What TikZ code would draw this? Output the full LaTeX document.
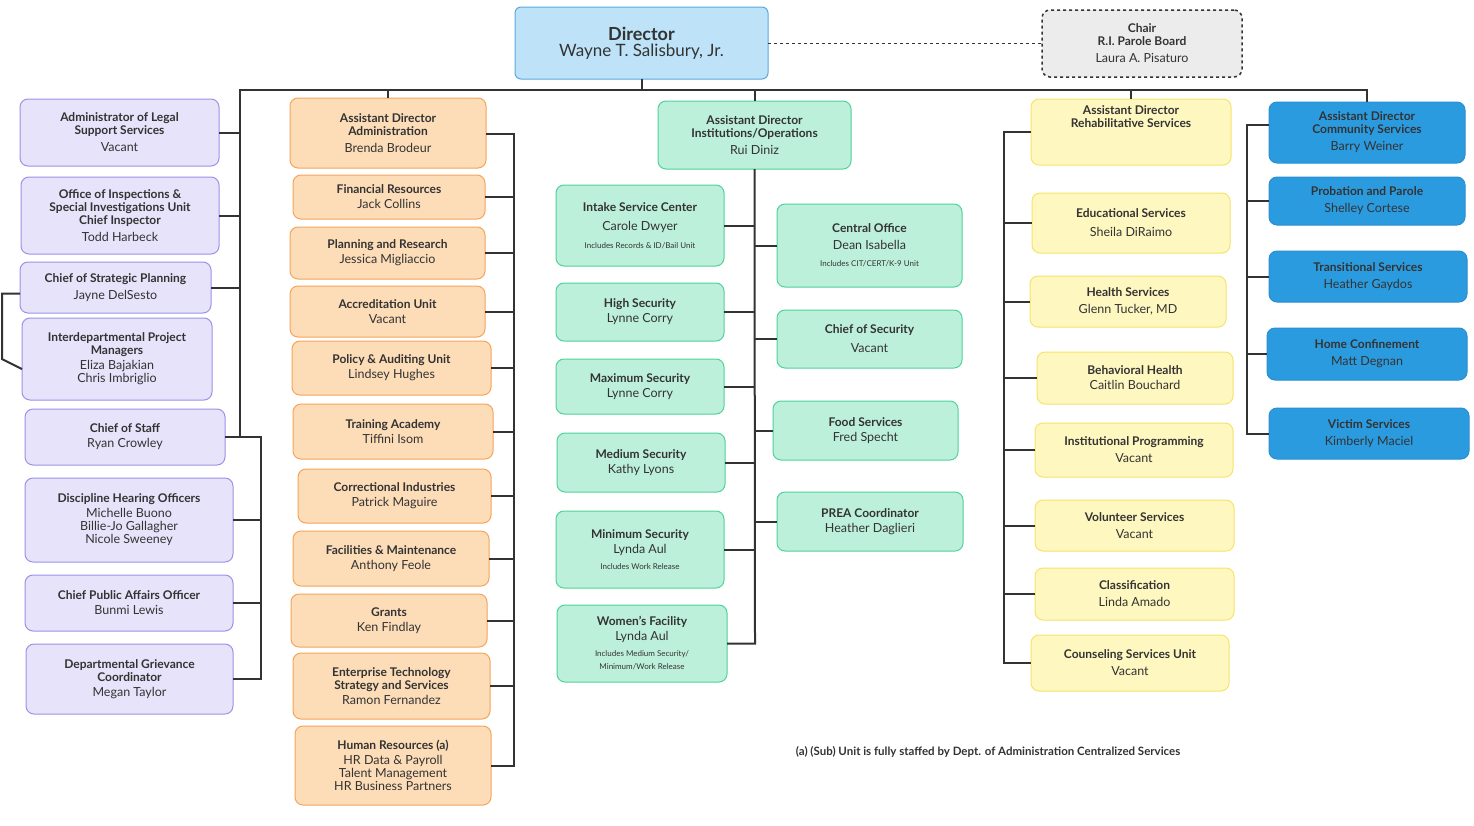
\documentclass[tikz,border=0pt]{standalone}
\usepackage{fontspec}
\setmainfont{Lato}
\usetikzlibrary{positioning}

\definecolor{ink}{HTML}{333333}
\definecolor{dirfill}{HTML}{BEE3F8}
\definecolor{dirline}{HTML}{5BA8E0}
\definecolor{purfill}{HTML}{E6E3FA}
\definecolor{purline}{HTML}{9B93E8}
\definecolor{orafill}{HTML}{FDDCB8}
\definecolor{oraline}{HTML}{F5A55A}
\definecolor{grefill}{HTML}{BDF0DA}
\definecolor{greline}{HTML}{4ED39A}
\definecolor{yelfill}{HTML}{FFF7C0}
\definecolor{yelline}{HTML}{F5E46A}
\definecolor{blufill}{HTML}{2B9BE0}
\definecolor{bluline}{HTML}{2A8ED0}

\tikzset{
  unit/.style={rounded corners=8pt, line width=1pt, align=center, inner sep=0pt,
    outer sep=0pt, text=ink, font=\fontsize{12.5}{13}\selectfont},
  purple/.style={unit, draw=purline, fill=purfill},
  orange/.style={unit, draw=oraline, fill=orafill},
  green/.style={unit, draw=greline, fill=grefill},
  yellow/.style={unit, draw=yelline, fill=yelfill},
  blue/.style={unit, draw=bluline, fill=blufill},
  link/.style={draw=ink, line width=2pt},
}
\newcommand\ttl[1]{{\bfseries\fontsize{12}{12.5}\selectfont #1}}
\newcommand\sml[1]{{\fontsize{8}{9}\selectfont #1}}
% name, style, x1, y1, x2, y2, text
\newcommand\orgbox[7]{%
  \node[#2, minimum width={(#5-#3)*1pt}, minimum height={(#6-#4)*1pt}]
    (#1) at ({(#3+#5)/2},{(#4+#6)/2}) {#7};}

\begin{document}
\begin{tikzpicture}[x=1pt,y=-1pt]

  %Background
  \useasboundingbox[fill=white] (0,0) rectangle (1474,825);

  %Top
  \orgbox{dir}{unit, draw=dirline, fill=dirfill, rounded corners=6pt}{515}{7}{768}{79}
    {{\bfseries\fontsize{18}{20}\selectfont Director}\\[3pt]{\fontsize{17}{19}\selectfont Wayne T. Salisbury, Jr.}}
  \orgbox{chair}{unit, draw=ink, fill=gray!15, dashed, line width=1.5pt}{1042}{10}{1242}{77}
    {\ttl{Chair}\\\ttl{R.I. Parole Board}\\[4pt]Laura A. Pisaturo}

  %Staff (purple)
  \orgbox{legal}{purple}{20}{99}{219}{166}{\ttl{Administrator of Legal}\\\ttl{Support Services}\\[4pt]Vacant}
  \orgbox{insp}{purple}{21}{177}{219}{254}{\ttl{Office of Inspections \&}\\\ttl{Special Investigations Unit}\\\ttl{Chief Inspector}\\[4pt]Todd Harbeck}
  \orgbox{strat}{purple}{20}{262}{211}{313}{\ttl{Chief of Strategic Planning}\\[4pt]Jayne DelSesto}
  \orgbox{ipm}{purple}{22}{318}{212}{400}{\ttl{Interdepartmental Project}\\\ttl{Managers}\\[2pt]Eliza Bajakian\\Chris Imbriglio}
  \orgbox{staff}{purple}{25}{409}{225}{465}{\ttl{Chief of Staff}\\[2pt]Ryan Crowley}
  \orgbox{disc}{purple}{25}{478}{233}{562}{\ttl{Discipline Hearing Officers}\\[2pt]Michelle Buono\\Billie-Jo Gallagher\\Nicole Sweeney}
  \orgbox{pao}{purple}{25}{575}{233}{631}{\ttl{Chief Public Affairs Officer}\\[2pt]Bunmi Lewis}
  \orgbox{griev}{purple}{26}{644}{233}{714}{\ttl{Departmental Grievance}\\\ttl{Coordinator}\\[2pt]Megan Taylor}

  %Administration (orange)
  \orgbox{adm}{orange}{290}{98}{486}{168}{\ttl{Assistant Director}\\\ttl{Administration}\\[4pt]Brenda Brodeur}
  \orgbox{fin}{orange}{293}{175}{485}{219}{\ttl{Financial Resources}\\[2pt]Jack Collins}
  \orgbox{plan}{orange}{290}{227}{485}{279}{\ttl{Planning and Research}\\[2pt]Jessica Migliaccio}
  \orgbox{accr}{orange}{290}{286}{485}{337}{\ttl{Accreditation Unit}\\[2pt]Vacant}
  \orgbox{poli}{orange}{292}{341}{491}{395}{\ttl{Policy \& Auditing Unit}\\[2pt]Lindsey Hughes}
  \orgbox{train}{orange}{293}{404}{493}{459}{\ttl{Training Academy}\\[2pt]Tiffini Isom}
  \orgbox{corr}{orange}{298}{469}{491}{523}{\ttl{Correctional Industries}\\[2pt]Patrick Maguire}
  \orgbox{faci}{orange}{293}{531}{489}{586}{\ttl{Facilities \& Maintenance}\\[2pt]Anthony Feole}
  \orgbox{gran}{orange}{291}{594}{487}{647}{\ttl{Grants}\\[2pt]Ken Findlay}
  \orgbox{ente}{orange}{293}{653}{490}{719}{\ttl{Enterprise Technology}\\\ttl{Strategy and Services}\\[2pt]Ramon Fernandez}
  \orgbox{hr}{orange}{295}{726}{491}{805}{\ttl{Human Resources (a)}\\[2pt]HR Data \& Payroll\\Talent Management\\HR Business Partners}

  %Institutions (green)
  \orgbox{inst}{green}{658}{101}{851}{169}{\ttl{Assistant Director}\\\ttl{Institutions/Operations}\\[4pt]Rui Diniz}
  \orgbox{intk}{green}{556}{185}{724}{266}{\ttl{Intake Service Center}\\[6pt]Carole Dwyer\\[5pt]\sml{Includes Records \& ID/Bail Unit}}
  \orgbox{high}{green}{556}{283}{724}{341}{\ttl{High Security}\\[2pt]Lynne Corry}
  \orgbox{maxs}{green}{556}{359}{724}{414}{\ttl{Maximum Security}\\[2pt]Lynne Corry}
  \orgbox{meds}{green}{557}{433}{725}{492}{\ttl{Medium Security}\\[2pt]Kathy Lyons}
  \orgbox{mins}{green}{556}{511}{724}{588}{\ttl{Minimum Security}\\[2pt]Lynda Aul\\[3pt]\sml{Includes Work Release}}
  \orgbox{wome}{green}{557}{605}{727}{682}{\ttl{Women's Facility}\\[2pt]Lynda Aul\\[3pt]\sml{Includes Medium Security/}\\\sml{Minimum/Work Release}}
  \orgbox{cent}{green}{777}{204}{962}{287}{\ttl{Central Office}\\[4pt]Dean Isabella\\[4pt]\sml{Includes CIT/CERT/K-9 Unit}}
  \orgbox{csec}{green}{777}{310}{962}{368}{\ttl{Chief of Security}\\[6pt]Vacant}
  \orgbox{food}{green}{773}{401}{958}{460}{\ttl{Food Services}\\[2pt]Fred Specht}
  \orgbox{prea}{green}{777}{492}{963}{551}{\ttl{PREA Coordinator}\\[2pt]Heather Daglieri}

  %Rehabilitative (yellow)
  \orgbox{rehb}{yellow}{1031}{99}{1231}{165}{\ttl{Assistant Director}\\\ttl{Rehabilitative Services}\\[18pt]\mbox{}}
  \orgbox{educ}{yellow}{1032}{193}{1230}{253}{\ttl{Educational Services}\\[6pt]Sheila DiRaimo}
  \orgbox{hlth}{yellow}{1030}{276}{1226}{327}{\ttl{Health Services}\\[4pt]Glenn Tucker, MD}
  \orgbox{behv}{yellow}{1037}{352}{1233}{404}{\ttl{Behavioral Health}\\[2pt]Caitlin Bouchard}
  \orgbox{iprg}{yellow}{1035}{423}{1233}{477}{\ttl{Institutional Programming}\\[4pt]Vacant}
  \orgbox{volu}{yellow}{1035}{500}{1234}{551}{\ttl{Volunteer Services}\\[4pt]Vacant}
  \orgbox{clas}{yellow}{1035}{568}{1234}{620}{\ttl{Classification}\\[4pt]Linda Amado}
  \orgbox{coun}{yellow}{1031}{635}{1229}{691}{\ttl{Counseling Services Unit}\\[4pt]Vacant}

  %Community (blue)
  \orgbox{comm}{blue}{1269}{102}{1465}{163}{\ttl{Assistant Director}\\\ttl{Community Services}\\[4pt]Barry Weiner}
  \orgbox{prob}{blue}{1269}{177}{1465}{225}{\ttl{Probation and Parole}\\[4pt]Shelley Cortese}
  \orgbox{tran}{blue}{1269}{251}{1467}{302}{\ttl{Transitional Services}\\[4pt]Heather Gaydos}
  \orgbox{home}{blue}{1267}{328}{1467}{380}{\ttl{Home Confinement}\\[4pt]Matt Degnan}
  \orgbox{vict}{blue}{1269}{408}{1469}{459}{\ttl{Victim Services}\\[4pt]Kimberly Maciel}

  %Note
  \node[text=ink, font=\bfseries\fontsize{11.5}{12}\selectfont] (note) at (988,752)
    {(a) (Sub) Unit is fully staffed by Dept. of Administration Centralized Services};

  %Trunk points
  \coordinate (bus) at (0,90);
  \coordinate (trL) at (240,0);
  \coordinate (trS) at (261,0);
  \coordinate (trA) at (514,0);
  \coordinate (trI) at (755,0);
  \coordinate (trR) at (1004,0);
  \coordinate (trC) at (1247,0);
  \coordinate (trP) at (2,0);

  %Links from director
  \draw[link, dashed, line width=1.5pt] (dir.east |- chair.west) -- (chair.west);
  \draw[link] (dir.south) -- (dir.south |- bus);
  \draw[link] (trL |- staff.east) -- (trL |- bus) -| (comm.north);
  \draw[link] (adm.north) -- (adm.north |- bus);
  \draw[link] (inst.north) -- (inst.north |- bus);
  \draw[link] (rehb.north) -- (rehb.north |- bus);

  %Staff links
  \foreach \n in {legal,insp,strat,staff}
    \draw[link] (\n.east) -- (\n.east -| trL);
  \draw[link] ([yshift=-6pt]strat.west) -| (trP |- ipm.west) -- ([yshift=-10pt]ipm.west);
  \draw[link] (trL |- staff.east) -| (trS |- griev.east) -- (griev.east);
  \foreach \n in {disc,pao}
    \draw[link] (\n.east) -- (\n.east -| trS);

  %Administration links
  \draw[link] ([yshift=-1pt]adm.east) -| (trA |- hr.east) -- (hr.east);
  \foreach \n in {fin,plan,accr,poli,train,corr,faci,gran,ente}
    \draw[link] (\n.east) -- (\n.east -| trA);

  %Institutions links
  \draw[link] (inst.south) -- (trI |- wome.east) -- (wome.east);
  \foreach \n in {intk,high,maxs,meds,mins}
    \draw[link] (\n.east) -- (\n.east -| trI);
  \foreach \n in {cent,csec,food,prea}
    \draw[link] (\n.west) -- (\n.west -| trI);

  %Rehabilitative links
  \draw[link] (rehb.west) -| (trR |- coun.west) -- (coun.west);
  \foreach \n in {educ,hlth,behv,iprg,volu,clas}
    \draw[link] (\n.west) -- (\n.west -| trR);

  %Community links
  \draw[link] ([yshift=8pt]comm.west) -| (trC |- vict.west) -- (vict.west);
  \foreach \n in {prob,tran,home}
    \draw[link] (\n.west) -- (\n.west -| trC);

\end{tikzpicture}
\end{document}
